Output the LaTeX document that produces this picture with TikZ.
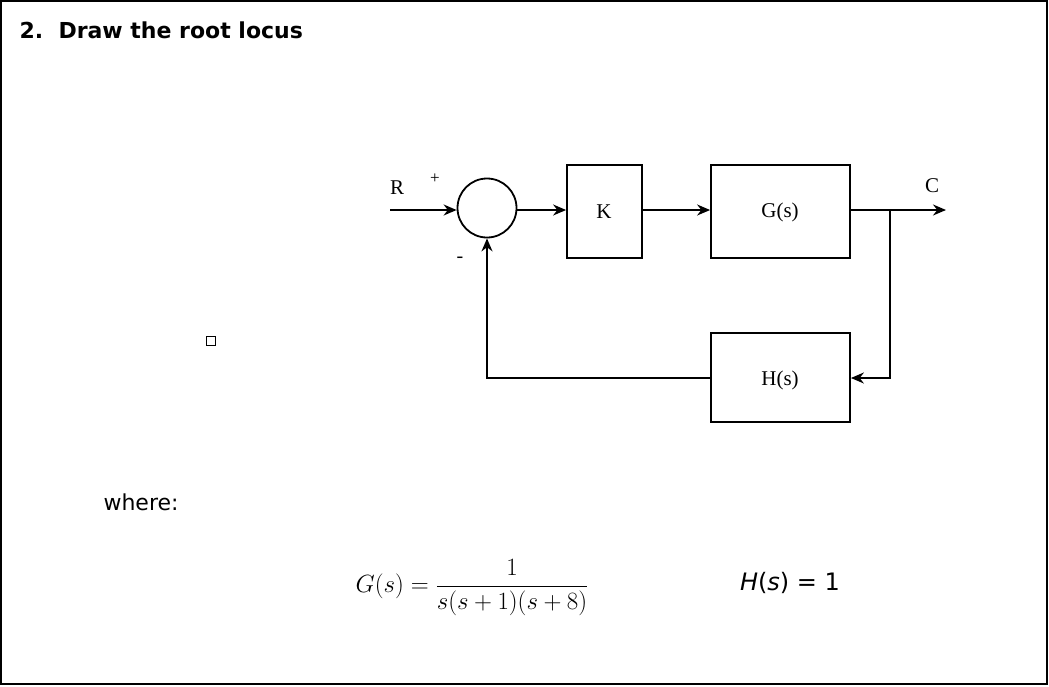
\documentclass[tikz,border=0pt]{standalone}
\usepackage{fontspec}
\setmainfont{Liberation Serif}
\newfontfamily\sansf{DejaVu Sans}
\usetikzlibrary{arrows.meta}
\begin{document}
\begin{tikzpicture}[x=1pt,y=-1pt,
  blk/.style={draw,line width=1.8pt,inner sep=0pt},
  ln/.style={line width=1.8pt},
  arr/.style={ln,-{Stealth[length=13pt,width=11pt]}},
  lab/.style={font=\fontsize{21}{24}\selectfont}]
\useasboundingbox (0,0) rectangle (1049,686);
\draw[line width=2pt] (1,1) rectangle (1047,684);
\node[anchor=west,font=\sansf\bfseries\fontsize{22}{26}\selectfont] (title) at (16,30) {2.\ \ Draw the root locus};
\node[draw,line width=1pt,minimum size=9pt,inner sep=0pt] (sq) at (211,341) {};
\node[anchor=west,font=\sansf\fontsize{22}{26}\selectfont] (where) at (100,502) {where:};
\node[draw,circle,line width=1.8pt,minimum size=59pt,inner sep=0pt] (sum) at (487,208) {};
\node[blk,minimum width=75pt,minimum height=93pt] (K) at (604.5,211.5) {};
\node[lab] at (604,212) {K};
\node[blk,minimum width=139pt,minimum height=93pt] (G) at (780.5,211.5) {};
\node[lab] at (780,212) {G(s)};
\node[blk,minimum width=139pt,minimum height=89pt] (H) at (780.5,377.5) {};
\node[lab] at (780,380) {H(s)};
\coordinate (in) at (390,210);
\coordinate (out) at (946,210);
\coordinate (br) at (890,210);
\coordinate (brd) at (890,378);
\coordinate (fb) at (487,378);
\node[lab] (R) at (397,188) {R};
\node[font=\fontsize{17}{18}\selectfont] (plus) at (435,179) {+};
\node[font=\fontsize{20}{20}\selectfont] (minus) at (460,260) {-};
\node[lab] (C) at (932,186) {C};
\draw[arr] (in) -- (sum.west |- in);
\draw[arr] (sum.east |- in) -- (K.west |- in);
\draw[arr] (K.east |- in) -- (G.west |- in);
\draw[arr] (G.east |- in) -- (out);
\draw[arr] (br) -- (brd) -- (H.east |- brd);
\draw[arr] (H.west |- fb) -- (fb) -- (sum.south);
\node[font=\fontsize{34}{40}\selectfont] (geq) at (472,588)
  {$G(s)=\displaystyle\frac{1}{s(s+1)(s+8)}$};
\node[font=\sansf\fontsize{24}{28}\selectfont] (heq) at (790,583) {\textit{H}(\textit{s}) = 1};
\end{tikzpicture}
\end{document}
